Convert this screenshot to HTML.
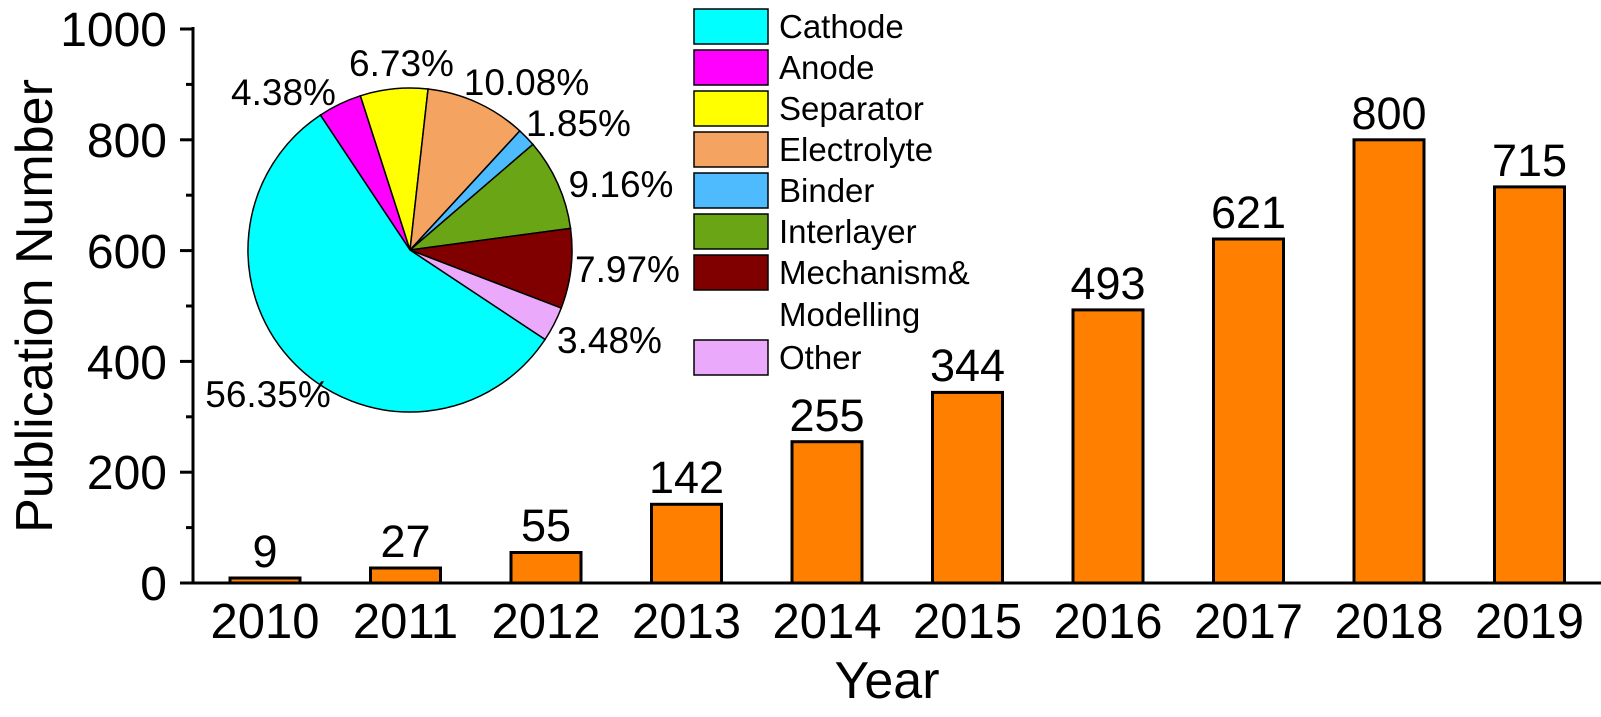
<!DOCTYPE html>
<html><head><meta charset="utf-8"><style>
html,body{margin:0;padding:0;background:#fff;}
svg{display:block;font-family:"Liberation Sans",Arial,sans-serif;}
</style></head><body>
<svg width="1601" height="717" viewBox="0 0 1601 717" xmlns="http://www.w3.org/2000/svg">
<rect width="1601" height="717" fill="#fff"/>
<!-- bars -->
<g fill="#FF8000" stroke="#000" stroke-width="3">
<rect x="230" y="578" width="70" height="5"/>
<rect x="370.5" y="568" width="70" height="15"/>
<rect x="511" y="552.5" width="70" height="30.5"/>
<rect x="651.5" y="504.3" width="70" height="78.7"/>
<rect x="792" y="441.7" width="70" height="141.3"/>
<rect x="932.5" y="392.4" width="70" height="190.6"/>
<rect x="1073" y="309.9" width="70" height="273.1"/>
<rect x="1213.5" y="239" width="70" height="344"/>
<rect x="1354" y="139.8" width="70" height="443.2"/>
<rect x="1494.5" y="186.9" width="70" height="396.1"/>
</g>
<g font-size="45" text-anchor="middle" fill="#000">
<text x="265" y="567">9</text>
<text x="405.5" y="557">27</text>
<text x="546" y="541">55</text>
<text x="686.5" y="493">142</text>
<text x="827" y="431">255</text>
<text x="967.5" y="381">344</text>
<text x="1108" y="299">493</text>
<text x="1248.5" y="228">621</text>
<text x="1389" y="129">800</text>
<text x="1529.5" y="176">715</text>
</g>
<!-- axes -->
<g stroke="#000" stroke-width="3">
<line x1="193" y1="27" x2="193" y2="584"/>
<line x1="180" y1="583" x2="1601" y2="583"/>
<line x1="180" y1="29" x2="193" y2="29"/>
<line x1="180" y1="139.8" x2="193" y2="139.8"/>
<line x1="180" y1="250.6" x2="193" y2="250.6"/>
<line x1="180" y1="361.4" x2="193" y2="361.4"/>
<line x1="180" y1="472.2" x2="193" y2="472.2"/>
<line x1="186" y1="84.4" x2="193" y2="84.4"/>
<line x1="186" y1="195.2" x2="193" y2="195.2"/>
<line x1="186" y1="306" x2="193" y2="306"/>
<line x1="186" y1="416.8" x2="193" y2="416.8"/>
<line x1="186" y1="527.6" x2="193" y2="527.6"/>
</g>
<g font-size="48" text-anchor="end">
<text x="167" y="46">1000</text>
<text x="167" y="157">800</text>
<text x="167" y="268">600</text>
<text x="167" y="379">400</text>
<text x="167" y="489">200</text>
<text x="167" y="600">0</text>
</g>
<g font-size="49" text-anchor="middle">
<text x="265" y="638">2010</text>
<text x="405.5" y="638">2011</text>
<text x="546" y="638">2012</text>
<text x="686.5" y="638">2013</text>
<text x="827" y="638">2014</text>
<text x="967.5" y="638">2015</text>
<text x="1108" y="638">2016</text>
<text x="1248.5" y="638">2017</text>
<text x="1389" y="638">2018</text>
<text x="1529.5" y="638">2019</text>
</g>
<text x="887" y="698" font-size="52" text-anchor="middle">Year</text>
<text transform="translate(52,306) rotate(-90)" font-size="52" text-anchor="middle">Publication Number</text>
<!-- pie -->
<g stroke="#000" stroke-width="1.5">
<path fill="#FF00FF" d="M410,250 L320.35,115.07 A162,162 0 0 1 360.38,95.79 Z"/>
<path fill="#FFFF00" d="M410,250 L360.38,95.79 A162,162 0 0 1 428.05,89.00 Z"/>
<path fill="#F4A460" d="M410,250 L428.05,89.00 A162,162 0 0 1 519.82,130.91 Z"/>
<path fill="#4FBBFF" d="M410,250 L519.82,130.91 A162,162 0 0 1 532.88,144.42 Z"/>
<path fill="#6AA516" d="M410,250 L532.88,144.42 A162,162 0 0 1 570.54,228.36 Z"/>
<path fill="#800000" d="M410,250 L570.54,228.36 A162,162 0 0 1 561.23,308.09 Z"/>
<path fill="#EAA9FB" d="M410,250 L561.23,308.09 A162,162 0 0 1 545.01,339.52 Z"/>
<path fill="#00FFFF" d="M410,250 L545.01,339.52 A162,162 0 1 1 320.35,115.07 Z"/>
</g>
<g font-size="37" text-anchor="middle">
<text x="283.5" y="105">4.38%</text>
<text x="401.5" y="76">6.73%</text>
<text x="526.5" y="95">10.08%</text>
<text x="578.5" y="136">1.85%</text>
<text x="621" y="197">9.16%</text>
<text x="627.5" y="282">7.97%</text>
<text x="609.5" y="353">3.48%</text>
<text x="268" y="407">56.35%</text>
</g>
<!-- legend -->
<g stroke="#000" stroke-width="1.5">
<rect x="694" y="9" width="74" height="35" fill="#00FFFF"/>
<rect x="694" y="50" width="74" height="35" fill="#FF00FF"/>
<rect x="694" y="91" width="74" height="35" fill="#FFFF00"/>
<rect x="694" y="132" width="74" height="35" fill="#F4A460"/>
<rect x="694" y="173" width="74" height="35" fill="#4FBBFF"/>
<rect x="694" y="214" width="74" height="35" fill="#6AA516"/>
<rect x="694" y="255" width="74" height="35" fill="#800000"/>
<rect x="694" y="340" width="74" height="35" fill="#EAA9FB"/>
</g>
<g font-size="33">
<text x="779" y="38">Cathode</text>
<text x="779" y="79">Anode</text>
<text x="779" y="120">Separator</text>
<text x="779" y="161">Electrolyte</text>
<text x="779" y="202">Binder</text>
<text x="779" y="243">Interlayer</text>
<text x="779" y="284">Mechanism&amp;</text>
<text x="779" y="326">Modelling</text>
<text x="779" y="369">Other</text>
</g>
</svg>
</body></html>
